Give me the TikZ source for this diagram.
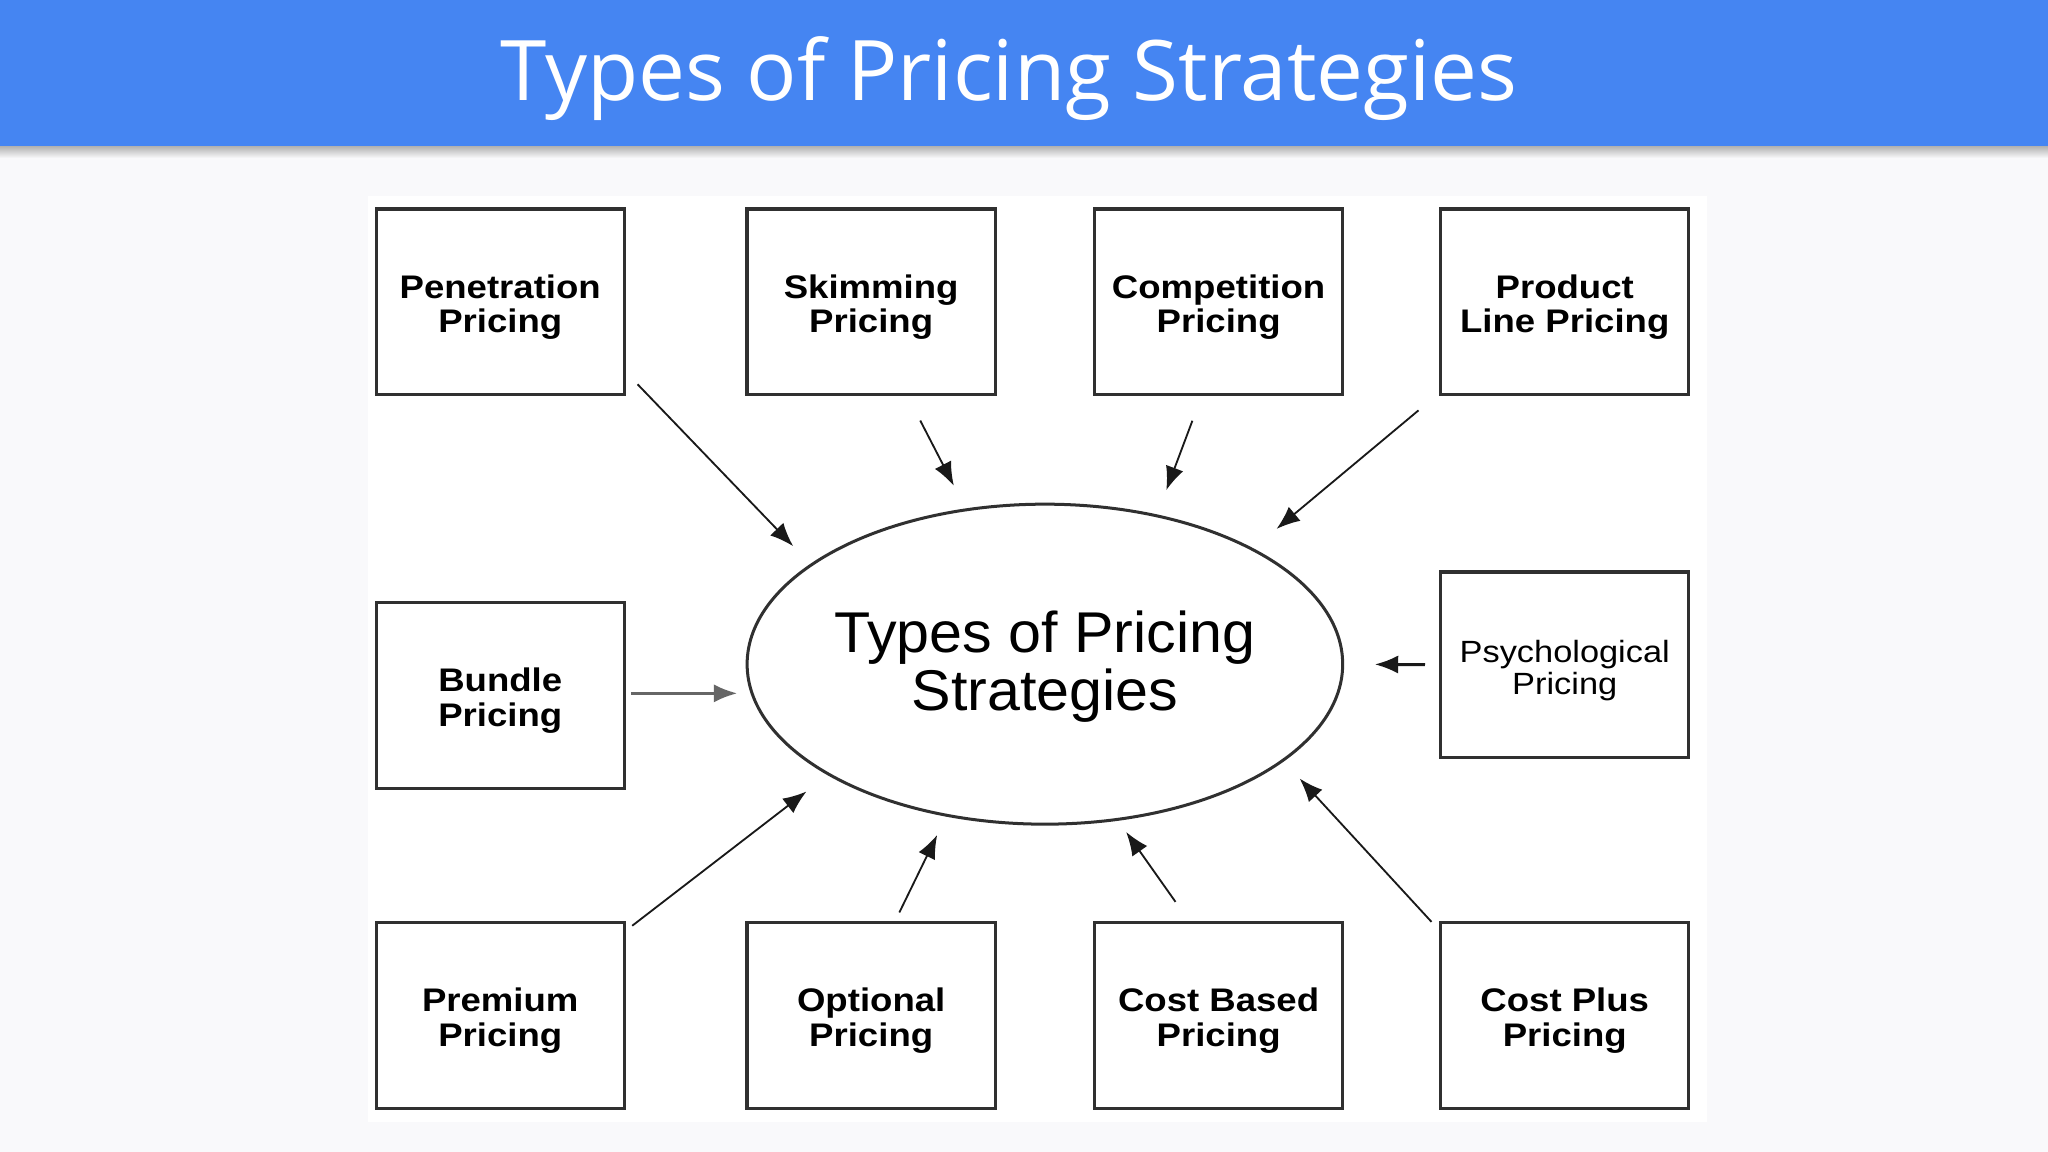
\documentclass[tikz,border=0pt]{standalone}
\usepackage{fontspec}
\setmainfont{Liberation Sans}
\newfontfamily\titlefont{Open Sans}
\newfontfamily\boxfont{Liberation Sans}[FakeStretch=1.12]
\newfontfamily\corefont{Liberation Sans}[FakeStretch=1.03]
\usetikzlibrary{arrows.meta, shapes.geometric}

\definecolor{headblue}{HTML}{4585F2}
\definecolor{pagegray}{HTML}{F9F9FB}
\definecolor{linegray}{HTML}{303030}

\newcommand\boxstrut{\rule{0pt}{26pt}}

\tikzset{
  pricebox/.style={draw=linegray, line width=2.5pt, fill=white,
    minimum width=190pt, minimum height=142pt, inner sep=0pt, outer sep=0pt,
    align=center, font=\boxfont\bfseries\fontsize{25}{26.3}\selectfont},
  arr/.style={draw=black!90, line width=1.4pt, -{Latex[length=18pt, width=14pt]}},
  heavyarr/.style={arr, line width=2.3pt},
}

\begin{document}
\begin{tikzpicture}[x=1pt, y=-1pt]
        \useasboundingbox (0,0) rectangle (1568,882);
        \fill[pagegray] (0,0) rectangle (1568,882);
        \fill[headblue] (0,0) rectangle (1568,112);
        \shade[top color=black!30, bottom color=pagegray] (0,112) rectangle (1568,121);
        \fill[white] (282,150) rectangle (1307,859);

        \node[anchor=base, text=white, font=\titlefont\fontsize{64}{70}\selectfont] (title) at (772.5,77.3) {Types of Pricing Strategies};

        \node[ellipse, draw=linegray, line width=2.3pt, minimum width=455pt, minimum height=245pt,
              inner sep=0pt, outer sep=0pt, align=center, font=\corefont\fontsize{44}{44.7}\selectfont] (core) at (800,508.5) {\rule{0pt}{36pt}Types of Pricing\\Strategies};

        \node[pricebox] (pen) at (383,231) {\boxstrut Penetration\\Pricing};
        \node[pricebox] (skim) at (667,231) {\boxstrut Skimming\\Pricing};
        \node[pricebox] (comp) at (933,231) {\boxstrut Competition\\Pricing};
        \node[pricebox] (prod) at (1198,231) {\boxstrut Product\\Line Pricing};
        \node[pricebox] (bund) at (383,532.5) {\boxstrut Bundle\\Pricing};
        \node[pricebox, font=\boxfont\fontsize{23.5}{24.8}\selectfont] (psych) at (1198,509) {\boxstrut Psychological\\Pricing};
        \node[pricebox] (prem) at (383,777.5) {\boxstrut Premium\\Pricing};
        \node[pricebox] (opt) at (667,777.5) {\boxstrut Optional\\Pricing};
        \node[pricebox] (costb) at (933,777.5) {\boxstrut Cost Based\\Pricing};
        \node[pricebox] (costp) at (1198,777.5) {\boxstrut Cost Plus\\Pricing};

        \path (pen.-29.3) edge[arr, shorten <=14.6pt, shorten >=20pt] (core.157.8);
        \path (skim.-69.5) edge[arr, shorten <=22.5pt, shorten >=20.8pt] (core.117.2);
        \path (comp.-100.5) edge[arr, shorten <=21.5pt, shorten >=21pt] (core.53.7);
        \path (prod.-144.9) edge[arr, shorten <=22.1pt, shorten >=24.3pt] (core.29.5);
        \path (psych.west) edge[heavyarr, shorten <=12pt, shorten >=24.5pt] (core.east);
        \path (bund.1.5) edge[heavyarr, draw=black!60, shorten <=5pt, shorten >=7.5pt] (bund.1.5 -| core.west);
        \path (prem.34.1) edge[arr, shorten <=7.6pt, shorten >=21.6pt] (core.-153.7);
        \path (opt.76.3) edge[arr, shorten <=8.8pt, shorten >=16.8pt] (core.-123.8);
        \path (costb.107) edge[arr, shorten <=19.6pt, shorten >=11.8pt] (core.-65);
        \path (costp.146.7) edge[arr, shorten <=10.3pt, shorten >=18.9pt] (core.-22.4);
      \end{tikzpicture}
\end{document}
